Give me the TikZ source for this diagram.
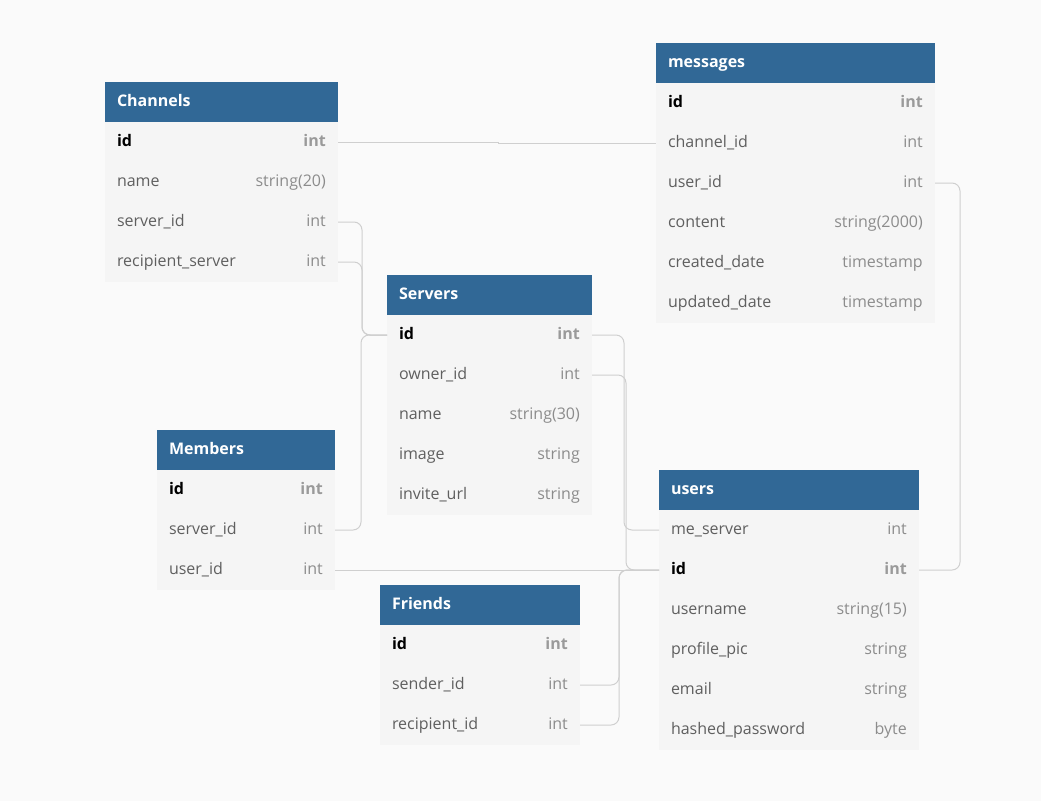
\documentclass[tikz,border=0pt]{standalone}
\usepackage{fontspec}
\setmainfont{Open Sans}
\usetikzlibrary{positioning}
\definecolor{hdrblue}{HTML}{316896}
\definecolor{rowgray}{HTML}{F5F5F5}
\definecolor{bggray}{HTML}{FAFAFA}
\definecolor{namegray}{HTML}{5F5F5F}
\definecolor{typegray}{HTML}{8C8C8C}
\definecolor{keygray}{HTML}{9A9A9A}
\definecolor{linkgray}{HTML}{CFCFCF}

\begin{document}
\begin{tikzpicture}[x=1pt, y=-1pt,
	hdr/.style={fill=hdrblue, text=white, font=\fontsize{16pt}{19pt}\selectfont\bfseries, text width=#1, minimum height=40pt, inner xsep=12pt, inner ysep=0pt, outer sep=0pt, text height=12pt, text depth=4pt, anchor=north west},
	row/.style={fill=rowgray, text=namegray, font=\fontsize{16pt}{19pt}\selectfont, text width=#1, minimum height=40pt, inner xsep=12pt, inner ysep=0pt, outer sep=0pt, text height=12pt, text depth=4pt},
	keyrow/.style={row=#1, text=black, font=\fontsize{16pt}{19pt}\selectfont\bfseries},
	type/.style={text=typegray, font=\fontsize{16pt}{19pt}\selectfont, inner sep=0pt, anchor=east, text height=12pt, text depth=4pt},
	keytype/.style={type, text=keygray, font=\fontsize{16pt}{19pt}\selectfont\bfseries},
	link/.style={draw=linkgray, line width=1pt, rounded corners=8pt}]
	\begingroup
	\fill[bggray] (0,0) rectangle (1041,801);
	
	% Channels
	\node[hdr=209pt] (chan) at (105,82) {Channels};
	\node[keyrow=209pt, below=0pt of chan] (chan-id) {id};
	\node[keytype] (chan-id-t) at ([xshift=-12pt]chan-id.east) {int};
	\foreach \n/\f/\t [remember=\n as \p (initially id)] in {name/name/string(20), server/server\_id/int, rec/recipient\_server/int} {
		\node[row=209pt, below=0pt of chan-\p] (chan-\n) {\f};
		\node[type] (chan-\n-t) at ([xshift=-12pt]chan-\n.east) {\t};
	}
	
	% messages
	\node[hdr=255pt] (msg) at (656,43) {messages};
	\node[keyrow=255pt, below=0pt of msg] (msg-id) {id};
	\node[keytype] (msg-id-t) at ([xshift=-12pt]msg-id.east) {int};
	\foreach \n/\f/\t [remember=\n as \p (initially id)] in {chan/channel\_id/int, user/user\_id/int, content/content/string(2000), created/created\_date/timestamp, updated/updated\_date/timestamp} {
		\node[row=255pt, below=0pt of msg-\p] (msg-\n) {\f};
		\node[type] (msg-\n-t) at ([xshift=-12pt]msg-\n.east) {\t};
	}
	
	% Servers
	\node[hdr=181pt] (srv) at (387,275) {Servers};
	\node[keyrow=181pt, below=0pt of srv] (srv-id) {id};
	\node[keytype] (srv-id-t) at ([xshift=-12pt]srv-id.east) {int};
	\foreach \n/\f/\t [remember=\n as \p (initially id)] in {owner/owner\_id/int, name/name/string(30), image/image/string, invite/invite\_url/string} {
		\node[row=181pt, below=0pt of srv-\p] (srv-\n) {\f};
		\node[type] (srv-\n-t) at ([xshift=-12pt]srv-\n.east) {\t};
	}
	
	% Members
	\node[hdr=154pt] (mem) at (157,430) {Members};
	\node[keyrow=154pt, below=0pt of mem] (mem-id) {id};
	\node[keytype] (mem-id-t) at ([xshift=-12pt]mem-id.east) {int};
	\foreach \n/\f/\t [remember=\n as \p (initially id)] in {server/server\_id/int, user/user\_id/int} {
		\node[row=154pt, below=0pt of mem-\p] (mem-\n) {\f};
		\node[type] (mem-\n-t) at ([xshift=-12pt]mem-\n.east) {\t};
	}
	
	% users
	\node[hdr=236pt] (usr) at (659,470) {users};
	\node[row=236pt, below=0pt of usr] (usr-me) {me\_server};
	\node[type] (usr-me-t) at ([xshift=-12pt]usr-me.east) {int};
	\node[keyrow=236pt, below=0pt of usr-me] (usr-id) {id};
	\node[keytype] (usr-id-t) at ([xshift=-12pt]usr-id.east) {int};
	\foreach \n/\f/\t [remember=\n as \p (initially id)] in {name/username/string(15), pic/profile\_pic/string, email/email/string, pass/hashed\_password/byte} {
		\node[row=236pt, below=0pt of usr-\p] (usr-\n) {\f};
		\node[type] (usr-\n-t) at ([xshift=-12pt]usr-\n.east) {\t};
	}
	
	% Friends
	\node[hdr=176pt] (fr) at (380,585) {Friends};
	\node[keyrow=176pt, below=0pt of fr] (fr-id) {id};
	\node[keytype] (fr-id-t) at ([xshift=-12pt]fr-id.east) {int};
	\foreach \n/\f/\t [remember=\n as \p (initially id)] in {sender/sender\_id/int, rec/recipient\_id/int} {
		\node[row=176pt, below=0pt of fr-\p] (fr-\n) {\f};
		\node[type] (fr-\n-t) at ([xshift=-12pt]fr-\n.east) {\t};
	}
	
	% references
	\draw[link, sharp corners] (chan-id.east) -- ++(160,0) |- (msg-chan.west);
	\draw[link] (chan-server.east) -- ++(24,0) |- (srv-id.west);
	\draw[link] (chan-rec.east) -- ++(24,0) |- (srv-id.west);
	\draw[link] (mem-server.east) -- ++(26,0) |- (srv-id.west);
	\draw[link] (mem-user.east) -- (usr-id.west);
	\draw[link] (srv-id.east) -- ++(32,0) |- (usr-me.west);
	\draw[link] (srv-owner.east) -- ++(34,0) |- (usr-id.west);
	\draw[link] (msg-user.east) -- ++(25,0) |- (usr-id.east);
	\draw[link] (fr-sender.east) -- ++(39,0) |- (usr-id.west);
	\draw[link] (fr-rec.east) -- ++(39,0) |- (usr-id.west);
	\endgroup
\end{tikzpicture}
\end{document}
